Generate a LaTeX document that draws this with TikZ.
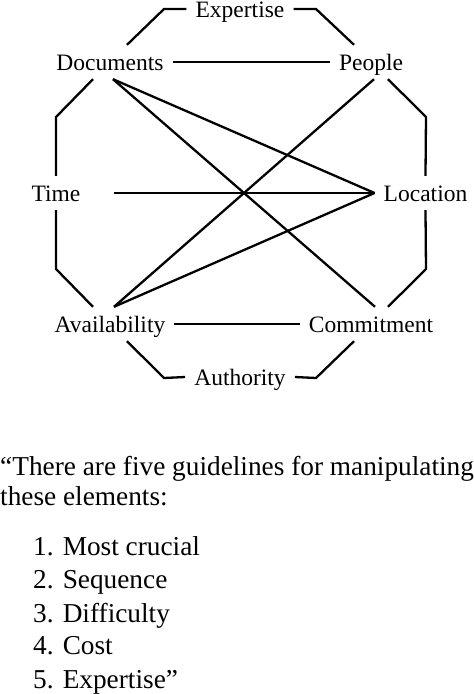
\documentclass[tikz,border=0pt]{standalone}
\usepackage{fontspec}
\setmainfont{Liberation Serif}
\begin{document}
\begin{tikzpicture}[x=1pt,y=-1pt,
  lbl/.style={font=\fontsize{23.5}{28}\selectfont, text height=16pt, text depth=0pt, inner xsep=9pt, inner ysep=9pt},
  body/.style={font=\fontsize{27.3}{33}\selectfont, anchor=base west, inner sep=0pt},
  link/.style={line width=2.3pt}]
\useasboundingbox (0,0) rectangle (474,694);
% labels
\node[lbl] (exp)   at (240,9.5)   {Expertise};
\node[lbl] (doc)   at (110,62)  {Documents};
\node[lbl] (peo)   at (371,62)  {People};
\node[lbl] (time)  at (56,193)  {Time};
\node[lbl] (loc)   at (425.5,193) {Location};
\node[lbl] (avail) at (110,324) {Availability};
\node[lbl] (comm)  at (371,324) {Commitment};
\node[lbl] (auth)  at (240,377) {Authority};
% bends of the octagon
\coordinate (b1) at (164,9);
\coordinate (b2) at (316,9);
\coordinate (b3) at (56,117);
\coordinate (b4) at (56,269);
\coordinate (b5) at (426,117);
\coordinate (b6) at (426,269);
\coordinate (b7) at (164,378);
\coordinate (b8) at (316,378);
\coordinate (tstart) at (114,193);
% octagon
\draw[link] ([xshift=17pt]doc.north) -- (b1) -- (b1 -| exp.west);
\draw[link] (b2 -| exp.east) -- (b2) -- ([xshift=-17pt]peo.north);
\draw[link] ([xshift=-17pt]doc.south) -- (b3) -- (time.north);
\draw[link] (time.south) -- (b4) -- ([xshift=-17pt]avail.north);
\draw[link] ([xshift=17pt]peo.south) -- (b5) -- (loc.north);
\draw[link] (loc.south) -- (b6) -- ([xshift=17pt]comm.north);
\draw[link] ([xshift=17pt]avail.south) -- (b7) -- (auth.west);
\draw[link] (auth.east) -- (b8) -- ([xshift=-17pt]comm.south);
% horizontals
\draw[link] (doc.east) -- (peo.west);
\draw[link] (tstart) -- (loc.west);
\draw[link] (avail.east) -- (comm.west);
% diagonals
\draw[link] ([xshift=3pt]doc.south) -- (loc.west);
\draw[link] ([xshift=3pt]doc.south) -- ([xshift=4pt]comm.north);
\draw[link] ([xshift=3pt]peo.south) -- ([xshift=4pt]avail.north);
\draw[link] (loc.west) -- ([xshift=4pt]avail.north);
% text
\node[body] (t1) at (0,475) {“There are five guidelines for manipulating};
\node[body] (t2) at (0,505) {these elements:};
\node[body] (i1) at (33,555) {1. Most crucial};
\node[body] (i2) at (33,588) {2. Sequence};
\node[body] (i3) at (33,622) {3. Difficulty};
\node[body] (i4) at (33,654) {4. Cost};
\node[body] (i5) at (33,688) {5. Expertise”};
\end{tikzpicture}
\end{document}
